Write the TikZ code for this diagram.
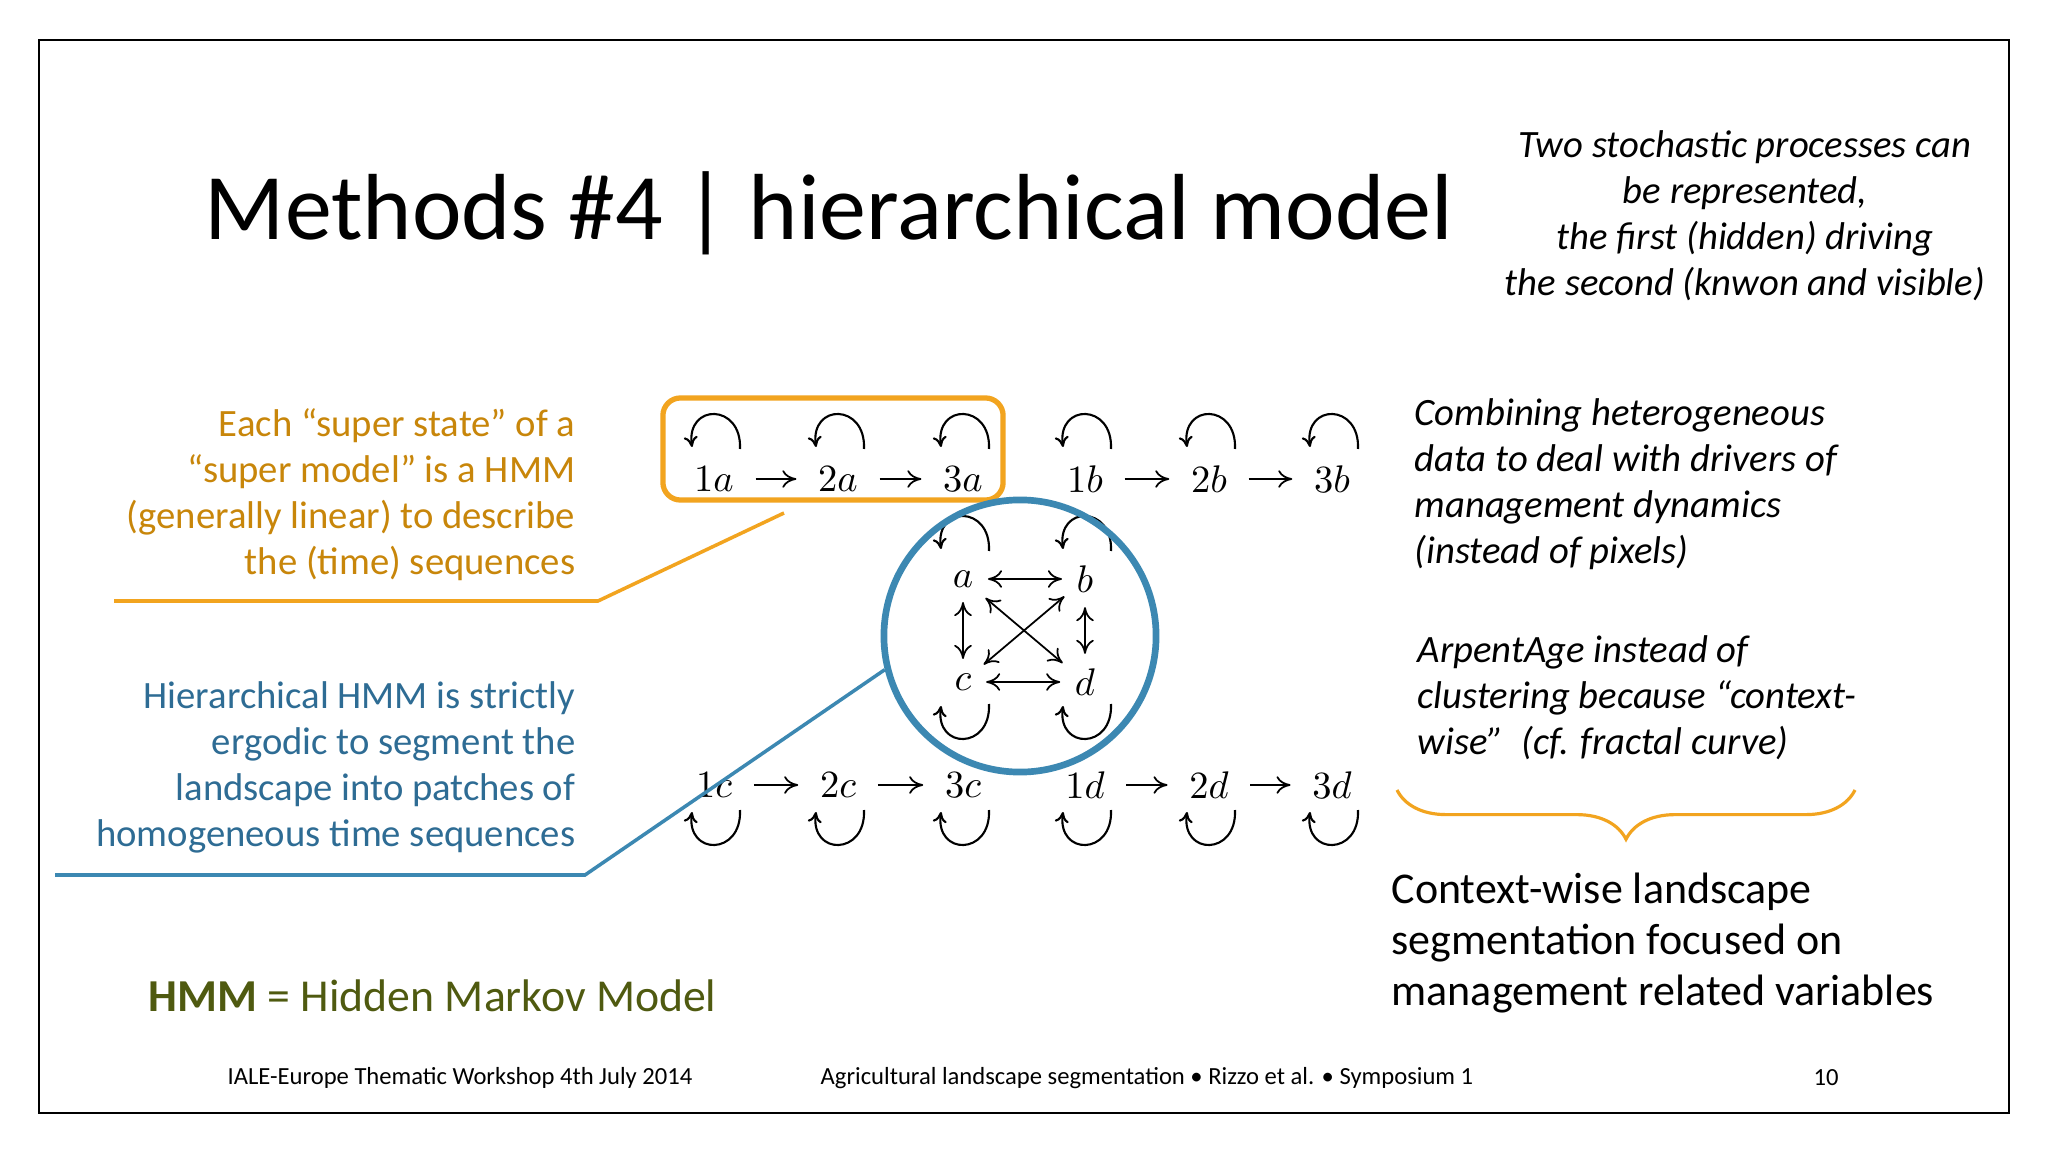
\documentclass[tikz,border=0pt]{standalone}
\usepackage{fontspec}
\setmainfont{Carlito}
\usetikzlibrary{arrows.meta,decorations.pathreplacing}
\definecolor{otext}{HTML}{C8860A}
\definecolor{oline}{HTML}{F2A41F}
\definecolor{btext}{HTML}{2E6C94}
\definecolor{bline}{HTML}{3C88B2}
\definecolor{olive}{HTML}{4F5A10}
\tikzset{
  st/.style={inner sep=1pt,font=\fontsize{11}{13}\selectfont},
  tr/.style={-{To[length=4pt,width=5pt]},line width=0.5pt,shorten <=5pt,shorten >=5pt},
  bi/.style={{To[length=4pt,width=5pt]}-{To[length=4pt,width=5pt]},line width=0.5pt,shorten <=3pt,shorten >=3pt},
  body/.style={font=\fontsize{11}{13.1}\selectfont,inner sep=0pt},
  looparr/.style={-{To[length=3pt,width=4pt]},line width=0.6pt},
}
\newcommand{\uploop}[2]{\draw[looparr] (#1+26,#2+18) .. controls (#1+28,#2-28) and (#1-28,#2-28) .. (#1-22,#2+16);}
\newcommand{\downloop}[2]{\draw[looparr] (#1+26,#2-18) .. controls (#1+28,#2+28) and (#1-28,#2+28) .. (#1-22,#2-16);}
\begin{document}
\begin{tikzpicture}[x=0.01cm,y=-0.01cm]
\useasboundingbox (0,0) rectangle (2048,1152);
\fill[white] (0,0) rectangle (2048,1152);
\draw[line width=0.6pt] (39,40) rectangle (2009,1113);
\node[font=\fontsize{26.7}{32}\selectfont] (title) at (829,213) {Methods \#4 | hierarchical model};
\node[body,font=\fontsize{11}{13.1}\selectfont\itshape,align=center] (intro) at (1745,216) {Two stochastic processes can\\be represented,\\the first (hidden) driving\\the second (knwon and visible)};
\node[body,text=otext,align=right,anchor=north east] (otx) at (576,408) {Each “super state” of a\\“super model” is a HMM\\(generally linear) to describe\\the (time) sequences};
\node[body,text=btext,align=right,anchor=north east] (btx) at (576,681) {Hierarchical HMM is strictly\\ergodic to segment the\\landscape into patches of\\homogeneous time sequences};
\node[anchor=west,inner sep=0pt,text=olive,font=\fontsize{13}{15}\selectfont] (hmm) at (148,996) {\textbf{HMM} = Hidden Markov Model};
\node[body,font=\fontsize{11}{13.1}\selectfont\itshape,align=left,anchor=north west] (comb) at (1414,398) {Combining heterogeneous\\data to deal with drivers of\\management dynamics\\(instead of pixels)};
\node[body,font=\fontsize{11}{13.1}\selectfont\itshape,align=left,anchor=north west] (arp) at (1417,635) {ArpentAge instead of\\clustering because “context-\\wise”\ \ (cf. fractal curve)};
\node[inner sep=0pt,font=\fontsize{12.5}{14.5}\selectfont,align=left,anchor=north west] (ctx) at (1391,872) {Context-wise landscape\\segmentation focused on\\management related variables};
\draw[oline,line width=0.9pt,decorate,decoration={brace,mirror,amplitude=14pt}] (1397,790) -- (1855,790);
% footer
\node[font=\fontsize{7}{8}\selectfont,inner sep=0pt] (f1) at (460,1078) {IALE-Europe Thematic Workshop 4th July 2014};
\node[font=\fontsize{7}{8}\selectfont,inner sep=0pt] (f2) at (1147,1078) {Agricultural landscape segmentation • Rizzo et al. • Symposium 1};
\node[font=\fontsize{7}{8}\selectfont,inner sep=0pt] (f3) at (1826,1078) {10};
% diagram
\node[st] (n1a) at (714,479) {$1a$};
\node[st] (n2a) at (838,479) {$2a$};
\node[st] (n3a) at (963,479) {$3a$};
\node[st] (n1b) at (1085,479) {$1b$};
\node[st] (n2b) at (1209,479) {$2b$};
\node[st] (n3b) at (1332,479) {$3b$};
\node[st] (n1c) at (714,785) {$1c$};
\node[st] (n2c) at (838,785) {$2c$};
\node[st] (n3c) at (963,785) {$3c$};
\node[st] (n1d) at (1085,785) {$1d$};
\node[st] (n2d) at (1209,785) {$2d$};
\node[st] (n3d) at (1332,785) {$3d$};
\node[st] (a) at (963,579) {$a$};
\node[st] (b) at (1085,579) {$b$};
\node[st] (c) at (963,682) {$c$};
\node[st] (d) at (1085,682) {$d$};
\foreach \p/\q in {n1a/n2a,n2a/n3a,n1b/n2b,n2b/n3b,n1c/n2c,n2c/n3c,n1d/n2d,n2d/n3d}
  \draw[tr] (\p) -- (\q);
\foreach \p/\q in {a/b,c/d,a/c,b/d,a/d,b/c}
  \draw[bi] (\p) -- (\q);
\foreach \x in {714,838,963,1085,1209,1332} {\uploop{\x}{431} \downloop{\x}{828}}
\uploop{963}{533} \uploop{1085}{533}
\downloop{963}{722} \downloop{1085}{722}
% highlight
\node[draw=oline,line width=1.5pt,rounded corners=5pt,minimum width=3.4cm,minimum height=1.02cm,inner sep=0pt] (obox) at (833,449) {};
\node[draw=bline,line width=1.9pt,circle,minimum size=2.72cm,inner sep=0pt] (circ) at (1020,636) {};
\coordinate (oa) at (114,601); \coordinate (ob) at (598,601); \coordinate (oc) at (784,513);
\draw[oline,line width=1pt] (oa) -- (ob) -- (oc);
\coordinate (ba) at (55,875); \coordinate (bb) at (585,875);
\draw[bline,line width=1pt] (ba) -- (bb) -- (circ.194);
\end{tikzpicture}
\end{document}
